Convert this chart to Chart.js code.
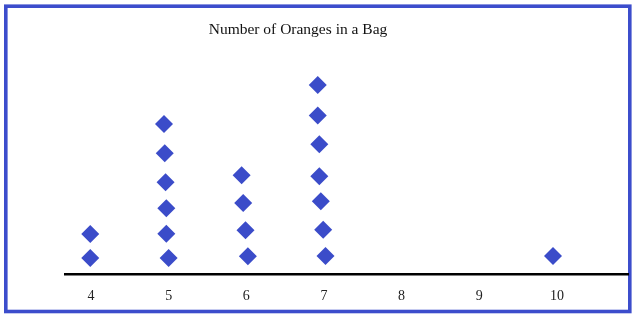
<!DOCTYPE html>
<html>
<head>
<meta charset="utf-8">
<title>Number of Oranges in a Bag</title>
<script src="https://cdn.jsdelivr.net/npm/chart.js@4.4.0/dist/chart.umd.min.js"></script>
<style>
  html, body { margin: 0; padding: 0; background: #fff; }
  #wrap { position: relative; width: 638px; height: 318px; }
</style>
</head>
<body>
<div id="wrap"><canvas id="dotPlot"></canvas></div>
<script>
// Dot plot data (one diamond per bag)
const chartTitle = 'Number of Oranges in a Bag';
const tickValues = [4, 5, 6, 7, 8, 9, 10];
const tickLabels = ['4', '5', '6', '7', '8', '9', '10'];

// dot positions (x slightly off the tick, y = stack height)
const dotX = [
    3.99, 3.99,
    5.00, 4.97, 4.97, 4.96, 4.95, 4.94,
    6.02, 5.99, 5.96, 5.94,
    7.02, 6.99, 6.96, 6.94, 6.94, 6.92, 6.92,
    9.95
];
const dotY = [
    0.62, 1.54,
    0.62, 1.55, 2.53, 3.53, 4.64, 5.77,
    0.68, 1.68, 2.73, 3.80,
    0.69, 1.70, 2.80, 3.76, 4.99, 6.10, 7.27,
    0.69
];

const dotColor = '#3b4cc9';

// Blue frame + title
const framePlugin = {
    id: 'frame',
    beforeDraw(chart) {
        const ctx = chart.ctx;
        ctx.save();
        ctx.fillStyle = '#fff';
        ctx.fillRect(0, 0, chart.width, chart.height);
        ctx.strokeStyle = '#3c4dcc';
        ctx.lineWidth = 3.6;
        ctx.strokeRect(5.8, 6.2, 624, 305.3);
        ctx.restore();
    },
    afterDraw(chart) {
        const ctx = chart.ctx;
        ctx.save();
        ctx.fillStyle = '#111';
        ctx.font = '15.5px "Liberation Serif", serif';
        ctx.textAlign = 'center';
        ctx.textBaseline = 'middle';
        ctx.fillText(chartTitle, 298, 30);
        ctx.restore();
    }
};

function initializeChart() {
    const ctx = document.getElementById('dotPlot').getContext('2d');
    new Chart(ctx, {
        type: 'scatter',
        data: {
            datasets: [{
                label: 'Bags',
                data: dotX.map((x, i) => ({ x: x, y: dotY[i] })),
                pointStyle: 'rectRot',
                pointRadius: 9,
                pointHoverRadius: 9,
                backgroundColor: dotColor,
                borderColor: dotColor,
                borderWidth: 0
            }]
        },
        options: {
            responsive: true,
            maintainAspectRatio: false,
            animation: false,
            layout: {
                padding: { left: 65, right: 10, top: 40, bottom: 14 }
            },
            plugins: {
                legend: { display: false },
                title: { display: false },
                tooltip: { enabled: false }
            },
            scales: {
                x: {
                    type: 'linear',
                    min: 3.665,
                    max: 10.916,
                    grid: { display: false, drawTicks: false },
                    border: { display: true, color: '#000', width: 2.6 },
                    afterBuildTicks: (scale) => {
                        scale.ticks = tickValues.map(v => ({ value: v }));
                    },
                    afterFit: (scale) => { scale.height = 30; },
                    ticks: {
                        autoSkip: false,
                        maxRotation: 0,
                        padding: 14,
                        color: '#222',
                        font: { family: '"Liberation Serif", serif', size: 14 },
                        callback: (value) => tickLabels[tickValues.indexOf(value)]
                    }
                },
                y: {
                    display: false,
                    min: 0,
                    max: 9
                }
            }
        },
        plugins: [framePlugin]
    });
}

document.addEventListener('DOMContentLoaded', () => {
    initializeChart();
});
</script>
</body>
</html>
